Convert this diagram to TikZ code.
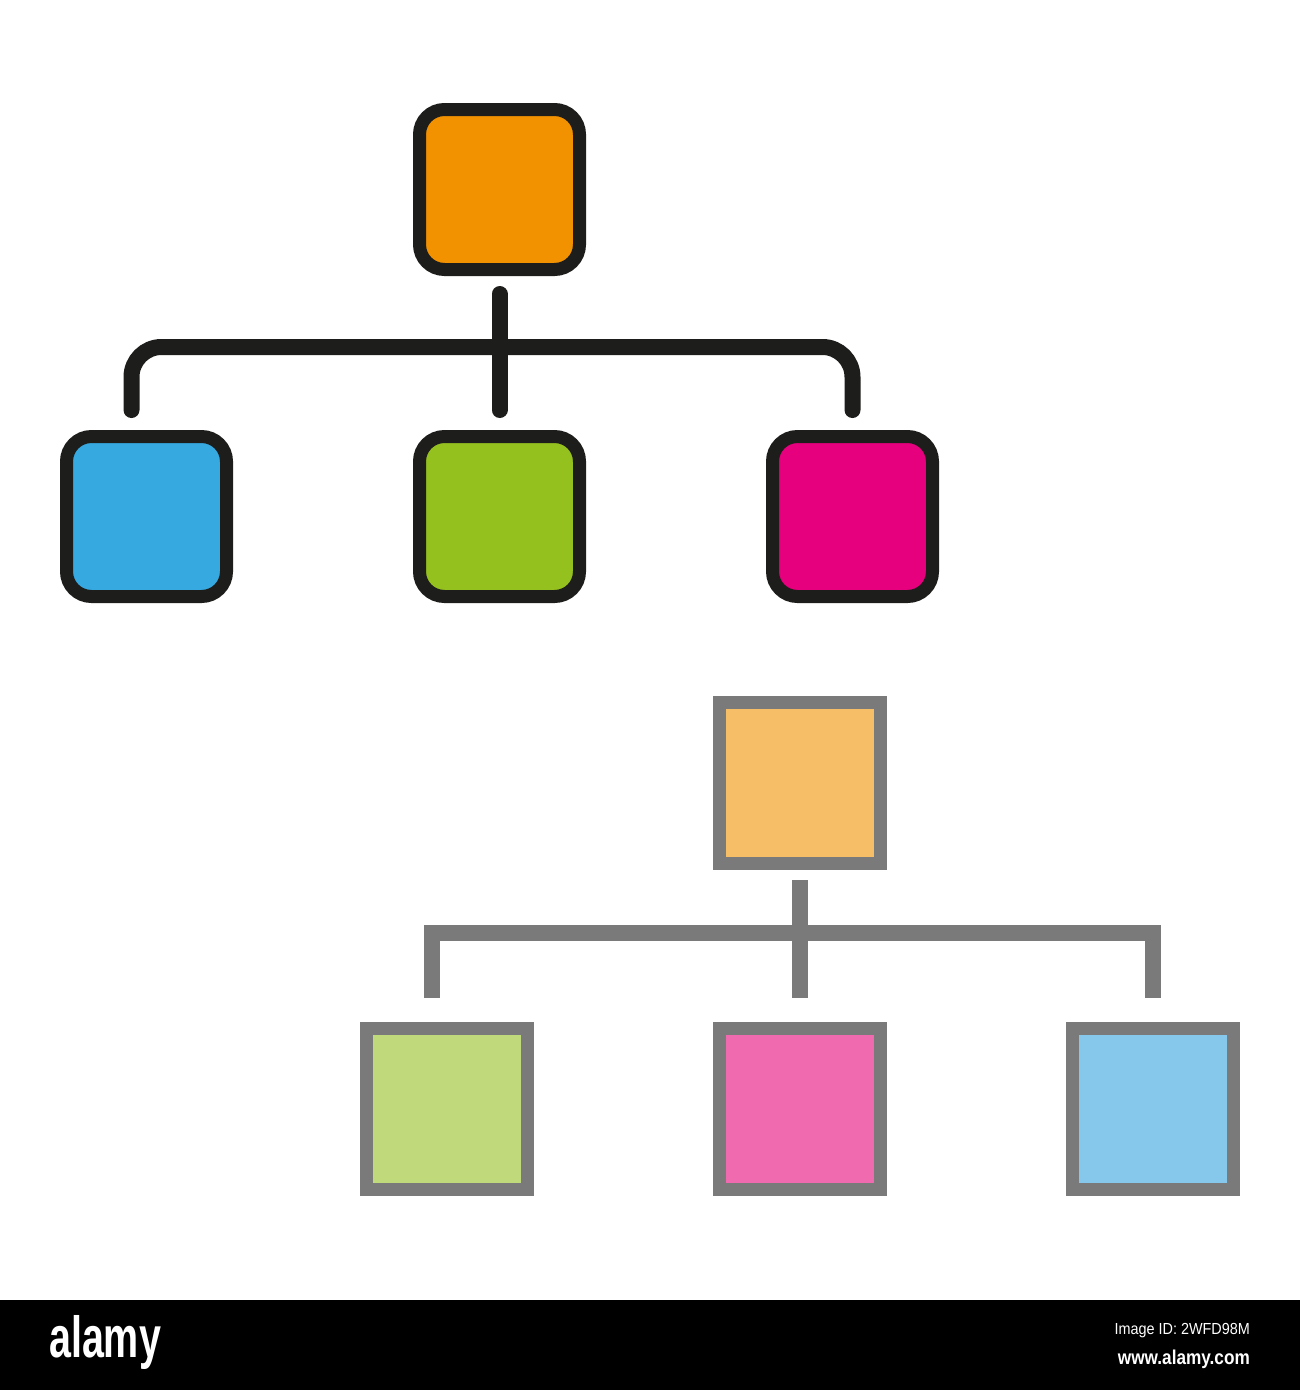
\documentclass[tikz,border=0pt]{standalone}
\usepackage{fontspec}
\setmainfont{Liberation Sans}
\definecolor{ink}{HTML}{1D1D1B}
\definecolor{cOrange}{HTML}{F39200}
\definecolor{cBlue}{HTML}{36A9E1}
\definecolor{cGreen}{HTML}{95C11F}
\definecolor{cMagenta}{HTML}{E6007E}
\definecolor{gline}{HTML}{7A7A7A}
\definecolor{lOrange}{HTML}{F6BE67}
\definecolor{lGreen}{HTML}{C0DA7B}
\definecolor{lPink}{HTML}{F06AB0}
\definecolor{lBlue}{HTML}{86C8EC}
\tikzset{
  rbox/.style={draw=ink, line width=13pt, rounded corners=25pt, minimum width=160pt, minimum height=160pt, inner sep=0pt},
  sbox/.style={draw=gline, line width=13pt, minimum width=161pt, minimum height=161pt, inner sep=0pt},
  rconn/.style={draw=ink, line width=16pt, line cap=round},
  sconn/.style={draw=gline, line width=16pt},
}
\begin{document}
\begin{tikzpicture}[x=1pt,y=-1pt]
\useasboundingbox (0,0) rectangle (1300,1390);
% top diagram
\node[rbox, fill=cOrange] (root) at (499.5,189.5) {};
\node[rbox, fill=cBlue] (blue) at (146.5,516.5) {};
\node[rbox, fill=cGreen] (green) at (499.5,516.5) {};
\node[rbox, fill=cMagenta] (magenta) at (852.5,516.5) {};
\coordinate (tbar) at (499.5,347);
\draw[rconn, shorten <=18pt, shorten >=20pt] (root.south) -- (green.north);
\draw[rconn, rounded corners=30pt] ([xshift=-15pt,yshift=20pt]blue.north) |- (tbar) -| ([yshift=20pt]magenta.north);
% bottom diagram
\node[sbox, fill=lOrange] (root2) at (800,783) {};
\node[sbox, fill=lGreen] (green2) at (447,1109) {};
\node[sbox, fill=lPink] (pink2) at (800,1109) {};
\node[sbox, fill=lBlue] (blue2) at (1153,1109) {};
\coordinate (bbar) at (800,933);
\draw[sconn, shorten <=10pt, shorten >=24pt] (root2.south) -- (pink2.north);
\draw[sconn, line join=miter] ([xshift=-15.5pt,yshift=24pt]green2.north) |- (bbar) -| ([yshift=24pt]blue2.north);
% footer bar
\fill[black] (0,1300) rectangle (1300,1390);
\node[anchor=west, text=white, font=\fontsize{58}{60}\selectfont\bfseries, xscale=0.68, inner sep=0pt] (logo) at (49,1342) {alamy};
\node[anchor=east, text=white, font=\fontsize{16}{18}\selectfont, xscale=0.9, inner sep=0pt] (imgid) at (1250,1331) {Image ID: 2WFD98M};
\node[anchor=east, text=white, font=\fontsize{20}{22}\selectfont\bfseries, xscale=0.86, inner sep=0pt] (url) at (1250,1359) {www.alamy.com};
\end{tikzpicture}
\end{document}
